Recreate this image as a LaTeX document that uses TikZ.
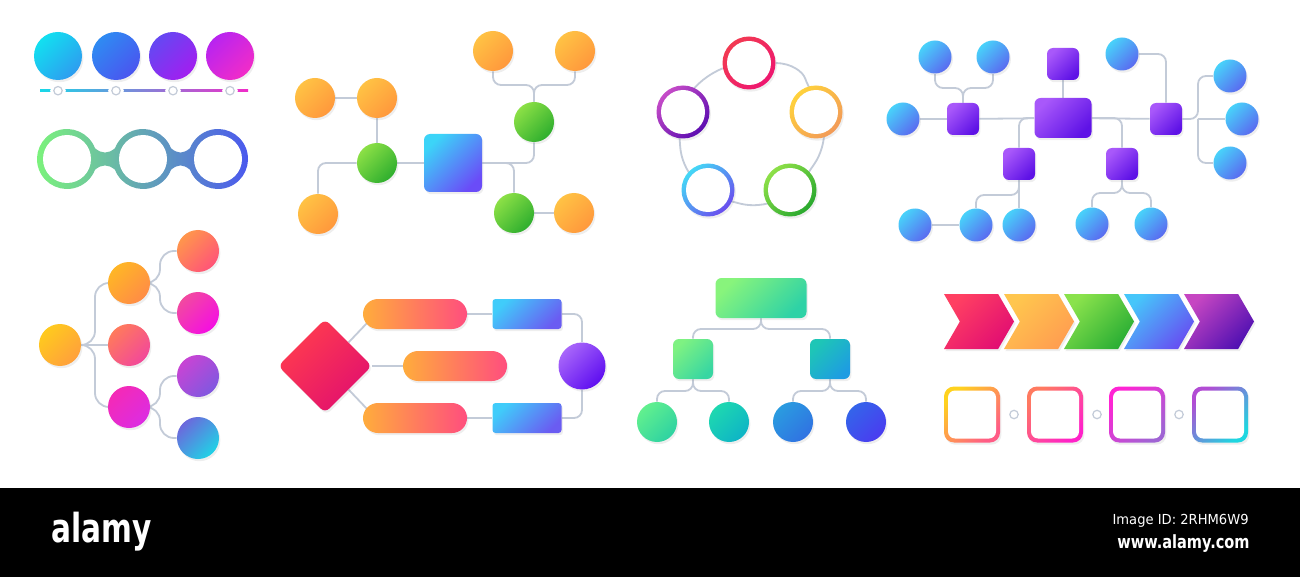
\documentclass[tikz,border=0pt]{standalone}
\usepackage{fontspec}
\usepackage{tikz}
\usetikzlibrary{calc, positioning, shapes.geometric, shapes.symbols, shadows, backgrounds}
\newfontfamily\logofont[FakeStretch=0.74]{DejaVu Sans}
\newfontfamily\idfont[FakeStretch=0.95]{DejaVu Sans}
\newfontfamily\sitefont[FakeStretch=0.8]{DejaVu Sans}
\definecolor{mygray}{HTML}{C3CBD8}
\definecolor{dotA}{HTML}{12E0F0}\definecolor{dotB}{HTML}{2E9CF0}
\definecolor{dotC}{HTML}{2F8BF2}\definecolor{dotD}{HTML}{4A55F0}
\definecolor{dotE}{HTML}{6548F2}\definecolor{dotF}{HTML}{A21EF0}
\definecolor{dotG}{HTML}{B824F0}\definecolor{dotH}{HTML}{F22CC8}
\definecolor{lineA}{HTML}{18D8E8}\definecolor{lineB}{HTML}{4A60F0}\definecolor{lineC}{HTML}{F02CC8}
\definecolor{chainA}{HTML}{7CF57A}\definecolor{chainB}{HTML}{20C2B2}\definecolor{chainC}{HTML}{4A56F0}
\definecolor{orA}{HTML}{FFC244}\definecolor{orB}{HTML}{FF983C}
\definecolor{grA}{HTML}{8CE046}\definecolor{grB}{HTML}{2EAE2E}
\definecolor{sqA}{HTML}{3CD4F8}\definecolor{sqB}{HTML}{6A4CF8}
\definecolor{rnA}{HTML}{F23A52}\definecolor{rnB}{HTML}{EE1670}
\definecolor{rnC}{HTML}{FFD23C}\definecolor{rnD}{HTML}{F29A58}
\definecolor{rnE}{HTML}{8EE048}\definecolor{rnF}{HTML}{28A82E}
\definecolor{rnG}{HTML}{44D8F6}\definecolor{rnH}{HTML}{6A4CEE}
\definecolor{rnI}{HTML}{C64CC8}\definecolor{rnJ}{HTML}{5C0CB0}
\definecolor{skA}{HTML}{48D2FA}\definecolor{skB}{HTML}{5A6AF0}
\definecolor{vioA}{HTML}{A858FA}\definecolor{vioB}{HTML}{5E12E6}
\definecolor{trA}{HTML}{FFCA1E}\definecolor{trB}{HTML}{FFA03C}
\definecolor{trC}{HTML}{FFB626}\definecolor{trD}{HTML}{FF8C46}
\definecolor{trE}{HTML}{FF7A5C}\definecolor{trF}{HTML}{F2489A}
\definecolor{trG}{HTML}{F42AB6}\definecolor{trH}{HTML}{DC2CE2}
\definecolor{trI}{HTML}{FF964C}\definecolor{trJ}{HTML}{FF5478}
\definecolor{trK}{HTML}{F24AA0}\definecolor{trL}{HTML}{F40EE2}
\definecolor{trM}{HTML}{C844D4}\definecolor{trN}{HTML}{8058E0}
\definecolor{trO}{HTML}{6C68DC}\definecolor{trP}{HTML}{20D2E6}
\definecolor{dmA}{HTML}{FF3C4E}\definecolor{dmB}{HTML}{E2106E}
\definecolor{pillA}{HTML}{FFAC3C}\definecolor{pillB}{HTML}{FF4E7E}
\definecolor{slabA}{HTML}{40CCFA}\definecolor{slabB}{HTML}{6A5CF2}
\definecolor{fcA}{HTML}{A866FA}\definecolor{fcB}{HTML}{5E0EF0}
\definecolor{ogA}{HTML}{88F47C}\definecolor{ogB}{HTML}{2ED2A6}
\definecolor{olA}{HTML}{7EF282}\definecolor{olB}{HTML}{38D6A2}
\definecolor{orgA}{HTML}{1EC6B6}\definecolor{orgB}{HTML}{1E9CE2}
\definecolor{obA}{HTML}{62F08E}\definecolor{obB}{HTML}{2ED2A2}
\definecolor{obC}{HTML}{1ED8B0}\definecolor{obD}{HTML}{0EB4C6}
\definecolor{obE}{HTML}{2A9CE0}\definecolor{obF}{HTML}{3072E2}
\definecolor{obG}{HTML}{3464EA}\definecolor{obH}{HTML}{4A3CF0}
\definecolor{chA}{HTML}{FF4062}\definecolor{chB}{HTML}{E20E72}
\definecolor{chC}{HTML}{FFC64E}\definecolor{chD}{HTML}{FF9E50}
\definecolor{chE}{HTML}{8AE24C}\definecolor{chF}{HTML}{2AAE34}
\definecolor{chG}{HTML}{46C6FA}\definecolor{chH}{HTML}{6650F2}
\definecolor{chI}{HTML}{C646C2}\definecolor{chJ}{HTML}{5010B2}
\definecolor{frA}{HTML}{FFD21E}\definecolor{frB}{HTML}{FF5C86}
\definecolor{frC}{HTML}{FF7A60}\definecolor{frD}{HTML}{FF22C8}
\definecolor{frE}{HTML}{FF24D4}\definecolor{frF}{HTML}{A064D4}
\definecolor{frG}{HTML}{B24CD4}\definecolor{frH}{HTML}{1ED6E0}
\tikzset{
  link/.style={draw=mygray, line width=0.9pt, rounded corners=4pt},
  soft/.style={drop shadow={opacity=0.13, shadow xshift=0.7pt, shadow yshift=-1.1pt}},
  grad/.style 2 args={top color=#1, bottom color=#2, shading angle=45},
  ball/.style={circle, inner sep=0pt, minimum size=#1, soft},
  tile/.style={rectangle, rounded corners=3pt, inner sep=0pt, minimum size=#1, soft},
  knot/.style={circle, inner sep=0pt, minimum size=4.2pt, draw=mygray, line width=0.6pt, fill=white, preaction={draw=white, line width=3.4pt}},
  halo/.style 2 args={circle, inner sep=0pt, minimum size=26.5pt, grad={#1}{#2}, soft,
    path picture={\fill[white] (path picture bounding box.center) circle (11pt);}},
  boxring/.style 2 args={rectangle, rounded corners=5pt, inner sep=0pt, minimum size=28pt, grad={#1}{#2}, soft,
    path picture={\fill[white, rounded corners=3.5pt] ([shift={(2pt,2pt)}]path picture bounding box.south west) rectangle ([shift={(-2pt,-2pt)}]path picture bounding box.north east);}},
  arrowtag/.style 2 args={signal, signal to=east, signal from=west, signal pointer angle=120, minimum width=35pt, minimum height=27.5pt, inner sep=0pt, grad={#1}{#2}, soft},
  pill/.style={rectangle, rounded corners=7.5pt, minimum width=52pt, minimum height=15pt, inner sep=0pt, left color=pillA, right color=pillB, soft},
  slab/.style={rectangle, rounded corners=1.5pt, minimum width=34.5pt, minimum height=15pt, inner sep=0pt, grad={slabA}{slabB}, soft},
}
\begin{document}
\begin{tikzpicture}[x=0.5pt, y=-0.5pt]
\useasboundingbox (0,0) rectangle (1300,577);
\begin{pgfonlayer}{background}
  \fill[white] (0,0) rectangle (1300,488);
  \fill[black] (0,488) rectangle (1300,577);
\end{pgfonlayer}

% top left: beads and timeline
\foreach \x/\ca/\cb [count=\i] in {58/dotA/dotB, 116/dotC/dotD, 173/dotE/dotF, 230/dotG/dotH}
  \node[ball=24pt, grad={\ca}{\cb}] (bead\i) at (\x,56) {};
\shade[left color=lineA, middle color=lineB, right color=lineC] (40,89.4) rectangle (248,92);
\foreach \x [count=\i] in {58,116,173,230}
  \node[knot] (tick\i) at (\x,90.7) {};

% ring chain
\shade[left color=chainA, middle color=chainB, right color=chainC]
  (67,159) ++(-21:30) arc[start angle=-21, end angle=-339, radius=30]
  .. controls (102,164) and (108,164) .. (115,169.75)
  arc[start angle=159, end angle=21, radius=30]
  .. controls (178,164) and (183,164) .. (190,169.75)
  arc[start angle=159, end angle=-159, radius=30]
  .. controls (183,154) and (178,154) .. (171,148.25)
  arc[start angle=-21, end angle=-159, radius=30]
  .. controls (108,154) and (102,154) .. (95,148.25) -- cycle;
\foreach \x in {67,143,218}
  \fill[white] (\x,159) circle (24);

% mind map
\node[ball=20pt, grad={orA}{orB}] (mo1) at (315,98) {};
\node[ball=20pt, grad={orA}{orB}] (mo2) at (377,98) {};
\node[ball=20pt, grad={orA}{orB}] (mo3) at (493,51) {};
\node[ball=20pt, grad={orA}{orB}] (mo4) at (575,51) {};
\node[ball=20pt, grad={orA}{orB}] (mo5) at (318,214) {};
\node[ball=20pt, grad={orA}{orB}] (mo6) at (574,213) {};
\node[ball=20pt, grad={grA}{grB}] (mg1) at (377,163) {};
\node[ball=20pt, grad={grA}{grB}] (mg2) at (534,122) {};
\node[ball=20pt, grad={grA}{grB}] (mg3) at (514,213) {};
\node[tile=29pt, grad={sqA}{sqB}] (msq) at (453,163) {};
\coordinate (mfork) at (534,85);

% pentagon
\node[halo={rnA}{rnB}] (pr1) at (749,63) {};
\node[halo={rnC}{rnD}] (pr2) at (816,112) {};
\node[halo={rnE}{rnF}] (pr3) at (790,190) {};
\node[halo={rnG}{rnH}] (pr4) at (708,190) {};
\node[halo={rnI}{rnJ}] (pr5) at (683,112) {};

% network
\foreach \n/\x/\y in {1/935/57, 2/993/57, 3/903/119, 4/1122/54, 5/1230/76, 6/1242/119, 7/1230/163,
                      8/915/225, 9/976/225, 10/1019/225, 11/1092/224, 12/1151/224}
  \node[ball=16.5pt, grad={skA}{skB}] (ca\n) at (\x,\y) {};
\foreach \n/\x/\y in {1/963/119, 2/1063/64, 3/1166/119, 4/1019/164, 5/1122/164}
  \node[tile=16pt, grad={vioA}{vioB}] (sa\n) at (\x,\y) {};
\node[tile=20pt, minimum width=28.5pt, grad={vioA}{vioB}] (hub) at (1063,118) {};
\coordinate (fk1) at (963,88);
\coordinate (fk2) at (1198,119);
\coordinate (fk3) at (1019,195);
\coordinate (fk4) at (1122,193);

% tree
\node[ball=21pt, grad={trA}{trB}] (t0) at (60,345) {};
\node[ball=21pt, grad={trC}{trD}] (t1) at (129,283) {};
\node[ball=21pt, grad={trE}{trF}] (t2) at (129,345) {};
\node[ball=21pt, grad={trG}{trH}] (t3) at (129,407) {};
\node[ball=21pt, grad={trI}{trJ}] (t4) at (198,251) {};
\node[ball=21pt, grad={trK}{trL}] (t5) at (198,313) {};
\node[ball=21pt, grad={trM}{trN}] (t6) at (198,376) {};
\node[ball=21pt, grad={trO}{trP}] (t7) at (198,438) {};
\coordinate (f0) at (95,345);
\coordinate (f1) at (160,283);
\coordinate (f3) at (160,407);

% flow chart
\node[diamond, aspect=1, minimum size=47pt, inner sep=0pt, rounded corners=3pt, grad={dmA}{dmB}, soft] (fd) at (325,366) {};
\node[pill] (fp1) at (415,314) {};
\node[pill] (fp2) at (455,366) {};
\node[pill] (fp3) at (415,418) {};
\node[slab] (fb1) at (527,314) {};
\node[slab] (fb2) at (527,418) {};
\node[ball=23.5pt, grad={fcA}{fcB}] (fe) at (582,366) {};

% org chart
\node[tile=20pt, minimum width=45.5pt, grad={ogA}{ogB}] (oc) at (761,298) {};
\node[tile=20pt, grad={olA}{olB}] (ol) at (693,359) {};
\node[tile=20pt, grad={orgA}{orgB}] (orr) at (830,359) {};
\node[ball=20pt, grad={obA}{obB}] (ob1) at (657,422) {};
\node[ball=20pt, grad={obC}{obD}] (ob2) at (729,422) {};
\node[ball=20pt, grad={obE}{obF}] (ob3) at (793,422) {};
\node[ball=20pt, grad={obG}{obH}] (ob4) at (866,422) {};
\coordinate (ofk1) at (761,329);
\coordinate (ofk2) at (693,391);
\coordinate (ofk3) at (830,391);

% chevrons and frames
\foreach \x/\ca/\cb [count=\i] in {979/chA/chB, 1039/chC/chD, 1099/chE/chF, 1159/chG/chH, 1219/chI/chJ}
  \node[arrowtag={\ca}{\cb}] (ch\i) at (\x,321.5) {};
\foreach \x/\ca/\cb [count=\i] in {972/frA/frB, 1055/frC/frD, 1137/frE/frF, 1220/frG/frH}
  \node[boxring={\ca}{\cb}] (fr\i) at (\x,414.5) {};
\foreach \x [count=\i] in {1014,1097,1179}
  \node[knot] (gap\i) at (\x,414.5) {};

\begin{pgfonlayer}{background}
  \draw[link] (mo1) -- (mo2);
  \draw[link] (mo2) -- (mg1);
  \draw[link] (mg1) -- (msq);
  \draw[link] (mg1) -| (mo5);
  \draw[link] (msq.east) -| (mg2);
  \draw[link] (msq.east) -| (mg3);
  \draw[link] (mg3) -- (mo6);
  \draw[link] (mg2) -- (mfork) -| (mo3);
  \draw[link] (mg2) -- (mfork) -| (mo4);

  \draw[link] (pr1) to[bend left=36] (pr2) to[bend left=36] (pr3) to[bend left=36] (pr4)
    to[bend left=36] (pr5) to[bend left=36] (pr1);

  \draw[link] (ca3) -- (sa1);
  \draw[link] (sa1) -- (fk1) -| (ca1);
  \draw[link] (sa1) -- (fk1) -| (ca2);
  \draw[link] (sa1) -- (hub);
  \draw[link] (sa2) -- (hub);
  \draw[link] (hub) -- (sa3);
  \draw[link] (sa4) |- (hub.west);
  \draw[link] (sa5) |- (hub.east);
  \draw[link] (ca4) -| (sa3);
  \draw[link] (sa3) -- (fk2) |- (ca5);
  \draw[link] (fk2) -- (ca6);
  \draw[link] (fk2) |- (ca7);
  \draw[link] (sa4) -- (ca10);
  \draw[link] (sa4) -- (fk3) -| (ca9);
  \draw[link] (ca8) -- (ca9);
  \draw[link] (sa5) -- (fk4) -| (ca11);
  \draw[link] (sa5) -- (fk4) -| (ca12);

  \draw[link, rounded corners=7pt] (t0) -- (t2);
  \draw[link, rounded corners=7pt] (t0) -- (f0) |- (t1);
  \draw[link, rounded corners=7pt] (t0) -- (f0) |- (t3);
  \draw[link, rounded corners=7pt] (t1) -- (f1) |- (t4);
  \draw[link, rounded corners=7pt] (t1) -- (f1) |- (t5);
  \draw[link, rounded corners=7pt] (t3) -- (f3) |- (t6);
  \draw[link, rounded corners=7pt] (t3) -- (f3) |- (t7);

  \draw[link] (fd.north east) -- ($(fp1.west)+(13,0)$);
  \draw[link] (fd) -- (fp2);
  \draw[link] (fd.south east) -- ($(fp3.west)+(13,0)$);
  \draw[link] (fp1) -- (fb1);
  \draw[link] (fp3) -- (fb2);
  \draw[link] (fb1) -| (fe);
  \draw[link] (fb2) -| (fe);

  \draw[link] (oc) -- (ofk1) -| (ol);
  \draw[link] (oc) -- (ofk1) -| (orr);
  \draw[link] (ol) -- (ofk2) -| (ob1);
  \draw[link] (ol) -- (ofk2) -| (ob2);
  \draw[link] (orr) -- (ofk3) -| (ob3);
  \draw[link] (orr) -- (ofk3) -| (ob4);
\end{pgfonlayer}

% footer
\node[anchor=base west, inner sep=0pt, text=white, font=\logofont\bfseries\fontsize{20}{20}\selectfont] (logo) at (51,542) {alamy};
\node[anchor=base east, inner sep=0pt, text=white, font=\idfont\fontsize{6.9}{8}\selectfont] (imgid) at (1249,524) {Image ID: 2RHM6W9};
\node[anchor=base east, inner sep=0pt, text=white, font=\sitefont\bfseries\fontsize{9.1}{10}\selectfont] (site) at (1250,548) {www.alamy.com};
\end{tikzpicture}
\end{document}
